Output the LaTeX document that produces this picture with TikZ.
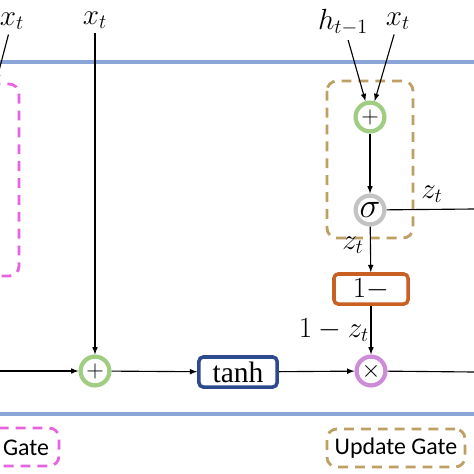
\documentclass[tikz,border=0pt]{standalone}
\usepackage{fontspec}
\setmainfont{Liberation Serif}
\newfontfamily\gatefont{Carlito}
\usetikzlibrary{positioning}
\definecolor{rail}{RGB}{140,165,215}
\definecolor{addg}{RGB}{160,205,130}
\definecolor{sigg}{RGB}{195,195,195}
\definecolor{mulp}{RGB}{205,140,215}
\definecolor{tanb}{RGB}{45,75,140}
\definecolor{oneo}{RGB}{200,95,35}
\definecolor{updt}{RGB}{190,160,100}
\definecolor{resp}{RGB}{230,100,225}
\tikzset{
  op/.style={circle,draw,line width=3pt,minimum size=0.72cm,inner sep=0pt,fill=white,font=\fontsize{18}{20}\selectfont},
  fn/.style={draw,rounded corners=3pt,line width=2.5pt,inner sep=0pt,fill=white,font=\fontsize{21}{24}\selectfont},
  lab/.style={font=\fontsize{22}{24}\selectfont},
  gatebox/.style={draw,dashed,dash pattern=on 7pt off 5pt,line width=2pt,rounded corners=7pt},
  arr/.style={-latex,thick}
}
\begin{document}
\begin{tikzpicture}[x=0.025cm,y=-0.025cm]
\useasboundingbox (0,0) rectangle (474,474);
\clip (0,0) rectangle (474,474);
% rails
\draw[rail,line width=3pt] (0,62) -- (474,62);
\draw[rail,line width=3pt] (0,414) -- (474,414);
% dashed groups
\draw[gatebox,resp] (-40,84) rectangle (19,276);
\draw[gatebox,updt] (327,81) rectangle (413,238);
% inputs
\node[lab] (xl) at (12,21) {$x_t$};
\node[lab] (xm) at (95,20) {$x_t$};
\node[lab] (ht) at (343,22) {$h_{t-1}$};
\node[lab] (xu) at (398,21) {$x_t$};
% operations
\node[op,draw=addg] (plusU) at (370,117) {$+$};
\node[op,draw=sigg,font=\fontsize{24}{26}\selectfont] (sig) at (370,210) {$\sigma$};
\node[fn,draw=oneo,minimum width=1.85cm,minimum height=0.75cm] (onem) at (371,289) {$1-$};
\node[op,draw=addg] (plusL) at (95,371) {$+$};
\node[fn,draw=tanb,minimum width=1.95cm,minimum height=0.75cm] (tanhb) at (238,372) {tanh};
\node[op,draw=mulp] (times) at (371,371) {$\times$};
\coordinate (zout) at (474,209);
\coordinate (hout) at (474,372);
\coordinate (hin) at (0,371);
\coordinate (rin) at (-4,82);
% connectors
\draw[arr] (xl) -- (rin);
\draw[arr] (xm) -- (plusL);
\draw[arr] (ht) -- (plusU);
\draw[arr] (xu) -- (plusU);
\draw[arr] (plusU) -- (sig);
\draw[thick] (sig) -- (zout);
\draw[arr] (sig) -- (onem);
\draw[arr] (onem) -- (times);
\draw[arr] (hin) -- (plusL);
\draw[arr] (plusL) -- (tanhb);
\draw[arr] (tanhb) -- (times);
\draw[thick] (times) -- (hout);
% edge labels
\node[lab] at (432,194) {$z_t$};
\node[lab] at (353,245) {$z_t$};
\node[lab] at (334,330) {$1-z_t$};
% gate names
\draw[gatebox,resp] (-40,428) rectangle (59,466);
\node[font=\gatefont\fontsize{17}{20}\selectfont] at (26,448) {Gate};
\node[gatebox,draw=updt,minimum width=3.45cm,minimum height=0.95cm,font=\gatefont\fontsize{17}{20}\selectfont] (upd) at (396,448) {Update Gate};
\end{tikzpicture}
\end{document}
